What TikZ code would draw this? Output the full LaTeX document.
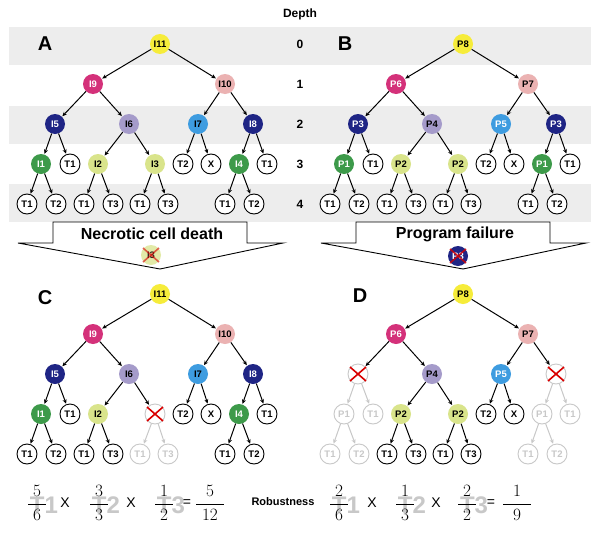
\documentclass[tikz,border=0pt]{standalone}
\usepackage{fontspec}
\setmainfont{Liberation Sans}
\usetikzlibrary{arrows.meta}
\definecolor{cYel}{HTML}{F6EC3A}
\definecolor{cMag}{HTML}{D4317A}
\definecolor{cPnk}{HTML}{EBB2B2}
\definecolor{cNav}{HTML}{1F2585}
\definecolor{cLav}{HTML}{A59BCA}
\definecolor{cBlu}{HTML}{3E9CE0}
\definecolor{cGrn}{HTML}{3D9A4A}
\definecolor{cLgr}{HTML}{D9E48B}
\definecolor{cBand}{HTML}{EDEDED}
\definecolor{cLite}{HTML}{C8C8C8}
\tikzset{
 nd/.style={circle,minimum size=20pt,inner sep=0pt,font=\fontsize{9.5}{10}\selectfont\bfseries},
 col/.style={nd,fill=#1,text=black},
 wcol/.style={nd,fill=#1,text=white},
 lf/.style={nd,draw=black,line width=0.9pt,fill=white},
 gl/.style={nd,draw=cLite,line width=0.9pt,fill=white,text=cLite},
 ed/.style={-{Stealth[length=4.5pt,width=4pt]},line width=1pt,shorten >=0.5pt},
 ged/.style={ed,draw=cLite},
 rx/.style={red!85!black,line width=1.6pt},
 lab/.style={font=\fontsize{20}{22}\selectfont\bfseries},
 dep/.style={font=\fontsize{12}{13}\selectfont\bfseries},
 fr/.style={font=\fontsize{16}{17}\selectfont},
 gt/.style={text=cLite,font=\fontsize{24}{25}\selectfont\bfseries},
 op/.style={font=\fontsize{14}{15}\selectfont},
}
\newcommand\Nd[4]{\node[#3] (#1) at #2 {#4};}
\newcommand\Fr[2]{$\displaystyle\frac{#1}{#2}$}
\newcommand\Cross[2]{\node[nd,draw=cLite,line width=0.9pt,fill=white] (#1) at #2 {};
 \draw[rx] ([shift={(-8,-7)}]#1.center) -- ([shift={(8,7)}]#1.center);
 \draw[rx] ([shift={(-8,7)}]#1.center) -- ([shift={(8,-7)}]#1.center);}
\begin{document}
\begin{tikzpicture}[x=1pt,y=-1pt]
\useasboundingbox (0,0) rectangle (600,533);
\fill[white] (0,0) rectangle (600,533);
\fill[cBand] (9,27) rectangle (591,65);
\fill[cBand] (9,106) rectangle (591,144);
\fill[cBand] (9,184) rectangle (591,222);
\node[dep] (dh) at (300,14) {Depth};
\node[dep] (d0) at (300,44) {0};
\node[dep] (d1) at (300,84) {1};
\node[dep] (d2) at (300,124) {2};
\node[dep] (d3) at (300,164) {3};
\node[dep] (d4) at (300,204) {4};
\node[lab] (LA) at (45,44) {A};
\node[lab] (LB) at (345,44) {B};
\node[lab] (LC) at (45,298) {C};
\node[lab] (LD) at (360,296) {D};
% ---------- Tree A
\begin{scope}[shift={(160,44)},name prefix=a-]
\Nd{r}{(0,0)}{col=cYel}{I11}
\Nd{l}{(-67,40)}{wcol=cMag}{I9}
\Nd{rr}{(65,40)}{col=cPnk}{I10}
\Nd{ll}{(-105,80)}{wcol=cNav}{I5}
\Nd{lr}{(-31,80)}{col=cLav}{I6}
\Nd{rl}{(38,80)}{col=cBlu}{I7}
\Nd{rrr}{(93,80)}{wcol=cNav}{I8}
\Nd{a}{(-119,120)}{wcol=cGrn}{I1}
\Nd{b}{(-90,120)}{lf}{T1}
\Nd{c}{(-62,120)}{col=cLgr}{I2}
\Nd{d}{(-5,120)}{col=cLgr}{I3}
\Nd{e}{(23,120)}{lf}{T2}
\Nd{f}{(51,120)}{lf}{X}
\Nd{g}{(79,120)}{wcol=cGrn}{I4}
\Nd{h}{(107,120)}{lf}{T1}
\Nd{a1}{(-133,160)}{lf}{T1}\Nd{a2}{(-104,160)}{lf}{T2}
\Nd{c1}{(-76,160)}{lf}{T1}\Nd{c2}{(-47,160)}{lf}{T3}
\Nd{d1}{(-20,160)}{lf}{T1}\Nd{d2}{(8,160)}{lf}{T3}
\Nd{g1}{(65,160)}{lf}{T1}\Nd{g2}{(94,160)}{lf}{T2}
\foreach \p/\c in {r/l,r/rr,l/ll,l/lr,rr/rl,rr/rrr,ll/a,ll/b,lr/c,lr/d,rl/e,rl/f,rrr/g,rrr/h,a/a1,a/a2,c/c1,c/c2,d/d1,d/d2,g/g1,g/g2}
 \draw[ed] (\p) -- (\c);
\end{scope}
% ---------- Tree B
\begin{scope}[shift={(463,44)},name prefix=b-]
\Nd{r}{(0,0)}{col=cYel}{P8}
\Nd{l}{(-67,40)}{wcol=cMag}{P6}
\Nd{rr}{(65,40)}{col=cPnk}{P7}
\Nd{ll}{(-105,80)}{wcol=cNav}{P3}
\Nd{lr}{(-31,80)}{col=cLav}{P4}
\Nd{rl}{(38,80)}{wcol=cBlu}{P5}
\Nd{rrr}{(93,80)}{wcol=cNav}{P3}
\Nd{a}{(-119,120)}{wcol=cGrn}{P1}
\Nd{b}{(-90,120)}{lf}{T1}
\Nd{c}{(-62,120)}{col=cLgr}{P2}
\Nd{d}{(-5,120)}{col=cLgr}{P2}
\Nd{e}{(23,120)}{lf}{T2}
\Nd{f}{(51,120)}{lf}{X}
\Nd{g}{(79,120)}{wcol=cGrn}{P1}
\Nd{h}{(107,120)}{lf}{T1}
\Nd{a1}{(-133,160)}{lf}{T1}\Nd{a2}{(-104,160)}{lf}{T2}
\Nd{c1}{(-76,160)}{lf}{T1}\Nd{c2}{(-47,160)}{lf}{T3}
\Nd{d1}{(-20,160)}{lf}{T1}\Nd{d2}{(8,160)}{lf}{T3}
\Nd{g1}{(65,160)}{lf}{T1}\Nd{g2}{(94,160)}{lf}{T2}
\foreach \p/\c in {r/l,r/rr,l/ll,l/lr,rr/rl,rr/rrr,ll/a,ll/b,lr/c,lr/d,rl/e,rl/f,rrr/g,rrr/h,a/a1,a/a2,c/c1,c/c2,d/d1,d/d2,g/g1,g/g2}
 \draw[ed] (\p) -- (\c);
\end{scope}
% ---------- Tree C
\begin{scope}[shift={(160,294)},name prefix=c-]
\Nd{r}{(0,0)}{col=cYel}{I11}
\Nd{l}{(-67,40)}{wcol=cMag}{I9}
\Nd{rr}{(65,40)}{col=cPnk}{I10}
\Nd{ll}{(-105,80)}{wcol=cNav}{I5}
\Nd{lr}{(-31,80)}{col=cLav}{I6}
\Nd{rl}{(38,80)}{col=cBlu}{I7}
\Nd{rrr}{(93,80)}{wcol=cNav}{I8}
\Nd{a}{(-119,120)}{wcol=cGrn}{I1}
\Nd{b}{(-90,120)}{lf}{T1}
\Nd{c}{(-62,120)}{col=cLgr}{I2}
\Cross{d}{(-5,120)}
\Nd{e}{(23,120)}{lf}{T2}
\Nd{f}{(51,120)}{lf}{X}
\Nd{g}{(79,120)}{wcol=cGrn}{I4}
\Nd{h}{(107,120)}{lf}{T1}
\Nd{a1}{(-133,160)}{lf}{T1}\Nd{a2}{(-104,160)}{lf}{T2}
\Nd{c1}{(-76,160)}{lf}{T1}\Nd{c2}{(-47,160)}{lf}{T3}
\Nd{d1}{(-20,160)}{gl}{T1}\Nd{d2}{(8,160)}{gl}{T3}
\Nd{g1}{(65,160)}{lf}{T1}\Nd{g2}{(94,160)}{lf}{T2}
\foreach \p/\c in {r/l,r/rr,l/ll,l/lr,rr/rl,rr/rrr,ll/a,ll/b,lr/c,lr/d,rl/e,rl/f,rrr/g,rrr/h,a/a1,a/a2,c/c1,c/c2,g/g1,g/g2}
 \draw[ed] (\p) -- (\c);
\foreach \p/\c in {d/d1,d/d2}
 \draw[ged] (\p) -- (\c);
\end{scope}
% ---------- Tree D
\begin{scope}[shift={(463,294)},name prefix=d-]
\Nd{r}{(0,0)}{col=cYel}{P8}
\Nd{l}{(-67,40)}{wcol=cMag}{P6}
\Nd{rr}{(65,40)}{col=cPnk}{P7}
\Cross{ll}{(-105,80)}
\Nd{lr}{(-31,80)}{col=cLav}{P4}
\Nd{rl}{(38,80)}{wcol=cBlu}{P5}
\Cross{rrr}{(93,80)}
\Nd{a}{(-119,120)}{gl}{P1}
\Nd{b}{(-90,120)}{gl}{T1}
\Nd{c}{(-62,120)}{col=cLgr}{P2}
\Nd{d}{(-5,120)}{col=cLgr}{P2}
\Nd{e}{(23,120)}{lf}{T2}
\Nd{f}{(51,120)}{lf}{X}
\Nd{g}{(79,120)}{gl}{P1}
\Nd{h}{(107,120)}{gl}{T1}
\Nd{a1}{(-133,160)}{gl}{T1}\Nd{a2}{(-104,160)}{gl}{T2}
\Nd{c1}{(-76,160)}{lf}{T1}\Nd{c2}{(-47,160)}{lf}{T3}
\Nd{d1}{(-20,160)}{lf}{T1}\Nd{d2}{(8,160)}{lf}{T3}
\Nd{g1}{(65,160)}{gl}{T1}\Nd{g2}{(94,160)}{gl}{T2}
\foreach \p/\c in {r/l,r/rr,l/ll,l/lr,rr/rl,rr/rrr,lr/c,lr/d,rl/e,rl/f,c/c1,c/c2,d/d1,d/d2}
 \draw[ed] (\p) -- (\c);
\foreach \p/\c in {ll/a,ll/b,rrr/g,rrr/h,a/a1,a/a2,g/g1,g/g2}
 \draw[ged] (\p) -- (\c);
\end{scope}
% ---------- banners
\draw[line width=0.9pt,fill=white] (53,222) -- (247,222) -- (247,243) -- (283,243) -- (160,269) -- (18,243) -- (53,243) -- cycle;
\node[font=\fontsize{16}{17}\selectfont\bfseries] (ba) at (152,234) {Necrotic cell death};
\node[col=cLgr,opacity=0.75,text opacity=0.8] (bx1) at (151,255) {I3};
\draw[rx,opacity=0.6] ([shift={(-8,-7)}]bx1.center) -- ([shift={(8,7)}]bx1.center);
\draw[rx,opacity=0.6] ([shift={(-8,7)}]bx1.center) -- ([shift={(8,-7)}]bx1.center);
\draw[line width=0.9pt,fill=white] (356,222) -- (550,222) -- (550,243) -- (586,243) -- (463,269) -- (321,243) -- (356,243) -- cycle;
\node[font=\fontsize{16}{17}\selectfont\bfseries] (bb) at (455,234) {Program failure};
\node[wcol=cNav] (bx2) at (458,256) {P3};
\draw[rx,opacity=0.8] ([shift={(-8,-7)}]bx2.center) -- ([shift={(8,7)}]bx2.center);
\draw[rx,opacity=0.8] ([shift={(-8,7)}]bx2.center) -- ([shift={(8,-7)}]bx2.center);
% ---------- formula
\node[gt] (g1) at (44,505) {T1};
\node[fr] (f1) at (37,503) {\Fr{\;5\;}{6}};
\node[op] (x1) at (65,503) {X};
\node[gt] (g2) at (106,505) {T2};
\node[fr] (f2) at (99,503) {\Fr{\;3\;}{3}};
\node[op] (x2) at (131,503) {X};
\node[gt] (g3) at (171,505) {T3};
\node[fr] (f3) at (164,503) {\Fr{\;1\;}{2}};
\node[op] (e1) at (187,503) {=};
\node[fr] (f4) at (210,503) {\Fr{\;\;5\;\;}{12}};
\node[font=\fontsize{11}{12}\selectfont\bfseries] (rob) at (283,502) {Robustness};
\node[gt] (g4) at (346,505) {T1};
\node[fr] (f5) at (339,503) {\Fr{\;2\;}{6}};
\node[op] (x3) at (372,503) {X};
\node[gt] (g5) at (412,505) {T2};
\node[fr] (f6) at (405,503) {\Fr{\;1\;}{3}};
\node[op] (x4) at (436,503) {X};
\node[gt] (g6) at (474,505) {T3};
\node[fr] (f7) at (467,503) {\Fr{\;2\;}{2}};
\node[op] (e2) at (491,503) {=};
\node[fr] (f8) at (517,503) {\Fr{\;\;1\;\;}{9}};
\end{tikzpicture}
\end{document}
